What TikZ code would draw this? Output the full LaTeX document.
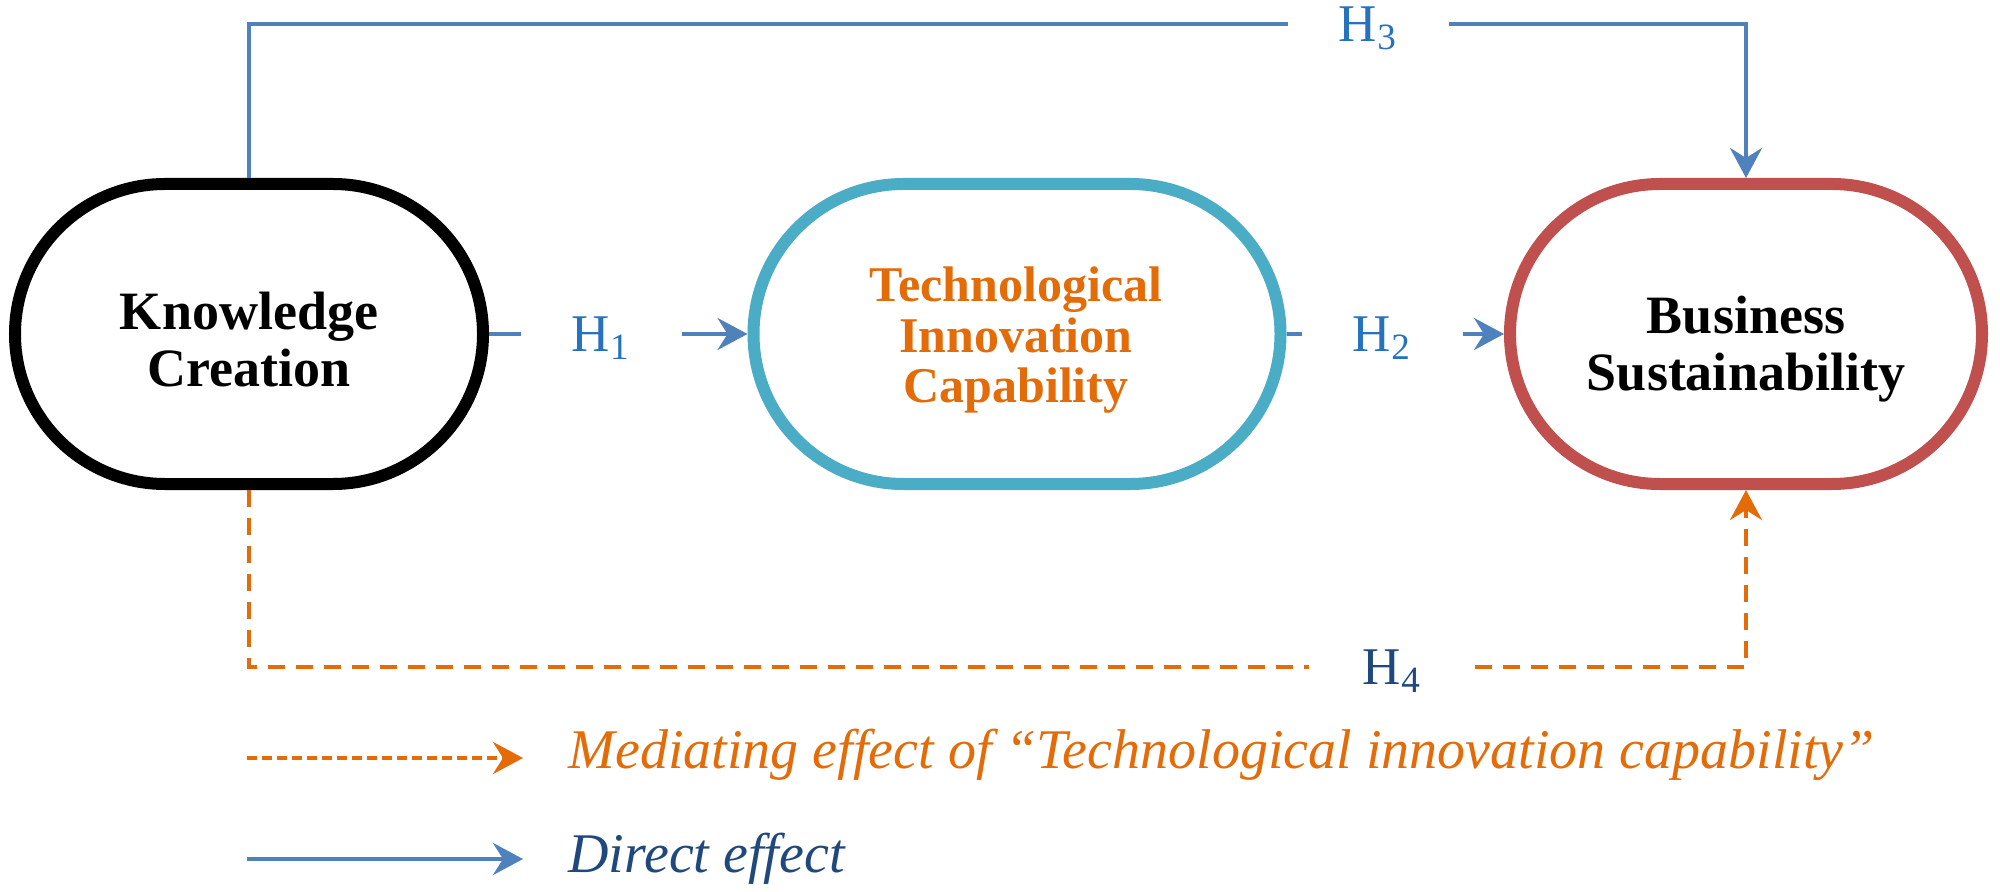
\documentclass[tikz,border=0pt]{standalone}
\usepackage{fontspec}
\setmainfont{Liberation Serif}
\usetikzlibrary{arrows.meta}
\definecolor{ticblue}{HTML}{4BACC6}
\definecolor{bsred}{HTML}{C0504D}
\definecolor{linkblue}{HTML}{4F81BD}
\definecolor{hblue}{HTML}{2672BE}
\definecolor{navy}{HTML}{1F497D}
\definecolor{medorange}{HTML}{E36C09}
\begin{document}
\begin{tikzpicture}[x=0.4pt,y=-0.4pt,
  stadium/.style={draw, rectangle, rounded corners=60pt, minimum height=120pt,
    line width=4.8pt, inner sep=0pt},
  nodetext/.style={align=center, inner sep=0pt,
    font=\bfseries\fontsize{21.6}{22.8}\selectfont},
  hlab/.style={font=\fontsize{21.2}{24}\selectfont, text=hblue, minimum width=64pt,
    inner xsep=0pt, inner ysep=0pt, text height=14pt, text depth=0pt},
  direct/.style={draw=linkblue, line width=1.6pt},
  headed/.style={-{Stealth[length=12pt,width=12.8pt,inset=4pt]}},
  mediate/.style={draw=medorange, line width=1.6pt, dash pattern=on 6.8pt off 4.4pt},
  legtext/.style={anchor=base west, inner sep=0pt, font=\itshape\fontsize{22.4}{26}\selectfont}
]
\useasboundingbox (0,0) rectangle (2000,892);
\fill[white] (0,0) rectangle (2000,892);

% shapes
\node[stadium, minimum width=187.2pt] (kc) at (249,334) {};
\node[stadium, draw=ticblue, minimum width=210.8pt] (tic) at (1017,334) {};
\node[stadium, draw=bsred, minimum width=188.8pt] (bs) at (1746,334) {};

% texts inside the shapes
\node[nodetext] (kct) at (249,340) {Knowledge\\Creation};
\node[nodetext, text=medorange, font=\bfseries\fontsize{20}{20.2}\selectfont] (tict) at (1016,340.5)
      {Technological\\Innovation\\Capability};
\node[nodetext] (bst) at (1746,349) {Business\\Sustainability};

% hypothesis labels
\node[hlab] (h1) at (601,334) {H\textsubscript{1}};
\node[hlab] (h2) at (1382,334) {H\textsubscript{2}};
\node[hlab] (h3) at (1368,24) {H\textsubscript{3}};
\node[hlab, text=navy, minimum width=66pt] (h4) at (1392,667) {H\textsubscript{4}};

% connectors
\draw[direct] (kc.east) -- (h1.west);
\draw[direct, headed] (h1.east) -- (tic.west);
\draw[direct] (tic.east) -- (h2.west);
\draw[direct, headed] (h2.east) -- (bs.west);
\draw[direct] (kc.north) |- (h3.west);
\draw[direct, headed] (h3.east) -| (bs.north);
\draw[mediate] (kc.south) |- (h4.west);
\draw[mediate, headed] (h4.east) -| (bs.south);

% legend
\coordinate (m1) at (247,758);
\coordinate (m2) at (523,758);
\draw[draw=medorange, line width=1.6pt, dash pattern=on 4pt off 2pt, headed] (m1) -- (m2);
\node[legtext, text=medorange] (legm) at (568,768) {Mediating effect of “Technological innovation capability”};
\coordinate (d1) at (247,859);
\coordinate (d2) at (523,859);
\draw[direct, headed] (d1) -- (d2);
\node[legtext, text=navy] (legd) at (568,872) {Direct effect};
\end{tikzpicture}
\end{document}
